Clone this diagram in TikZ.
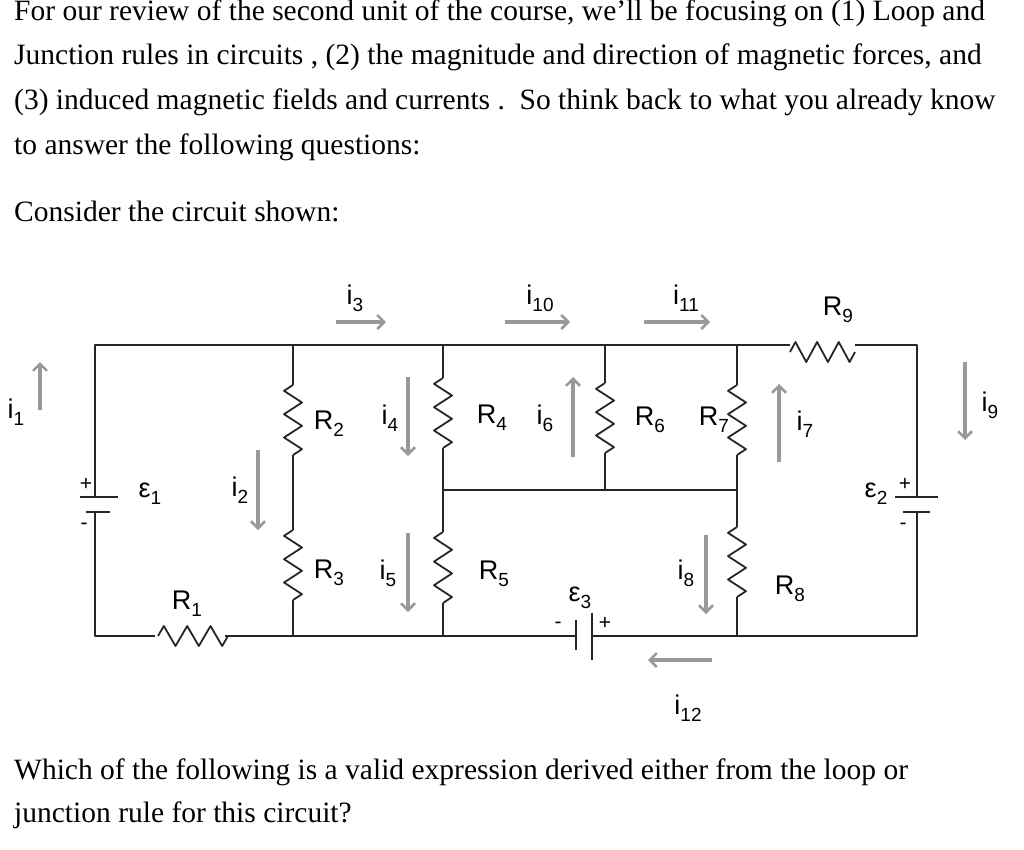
\documentclass[tikz,border=0pt]{standalone}
\usepackage{fontspec}
\setmainfont{Liberation Serif}
\newfontfamily\lsans{Liberation Sans}
\newcommand\sbs[1]{\raisebox{-0.25em}{\fontsize{19}{19}\selectfont #1}}
\begin{document}
\begin{tikzpicture}[x=1pt,y=-1pt,
  wire/.style={line width=1.8pt,black!85,line join=round},
  cur/.style={line width=4pt,black!40,-{Straight Barb[length=7pt,width=14pt,line width=2.5pt]}},
  lab/.style={font=\lsans\fontsize{27}{27}\selectfont,inner sep=0pt},
  pm/.style={font=\lsans\fontsize{21}{21}\selectfont,inner sep=0pt},
  txt/.style={font=\fontsize{29.5}{29.5}\selectfont,anchor=base west,inner sep=0pt}]
\usetikzlibrary{arrows.meta}
\useasboundingbox (0,0) rectangle (1024,849);
\newcommand\zzV[3]{\pgfmathsetmacro\hh{(#3-#2)/12}
  \draw[wire] (#1,#2) -- ++(-9,\hh) -- ++(18,2*\hh) -- ++(-18,2*\hh) -- ++(18,2*\hh) -- ++(-18,2*\hh) -- ++(18,2*\hh) -- ++(-9,\hh);}
\newcommand\zzH[3]{\pgfmathsetmacro\hh{(#3-#2)/12}
  \draw[wire] (#2,#1) -- ++(\hh,-10) -- ++(2*\hh,20) -- ++(2*\hh,-20) -- ++(2*\hh,20) -- ++(2*\hh,-20) -- ++(2*\hh,20) -- ++(\hh,-10);}
% text
\node[txt] at (14,20) {For our review of the second unit of the course, we'll be focusing on (1) Loop and};
\node[txt] at (14,64) {Junction rules in circuits , (2) the magnitude and direction of magnetic forces, and};
\node[txt] at (14,109) {(3) induced magnetic fields and currents .\ \ So think back to what you already know};
\node[txt] at (14,154) {to answer the following questions:};
\node[txt] at (14,221) {Consider the circuit shown:};
\node[txt] at (14,779) {Which of the following is a valid expression derived either from the loop or};
\node[txt] at (14,822) {junction rule for this circuit?};
\coordinate (TL) at (95,345); \coordinate (BL) at (95,636);
\coordinate (TR) at (917,345); \coordinate (BR) at (917,636);
% outer wires
\draw[wire] (95,497) -- (TL) -- (790,345);
\draw[wire] (855,345) -- (TR) -- (917,497);
\draw[wire] (95,512) -- (BL) -- (155,636);
\draw[wire] (225,636) -- (576,636);
\draw[wire] (592,636) -- (BR) -- (917,512);
\zzH{352}{790}{855}
\zzH{636}{158}{228}
% eps1
\draw[wire] (80,497) -- (118,497); \draw[wire,line width=2.4pt] (86,512) -- (110,512);
\node[pm] at (86,484) {+};
\node[pm] at (84,526) {-};
% eps2
\draw[wire] (895,497) -- (938,497); \draw[wire,line width=2.4pt] (903,512) -- (930,512);
\node[pm] at (905,484) {+};
\node[pm] at (903,526) {-};
% eps3
\draw[wire] (592,613) -- (592,660); \draw[wire,line width=2.4pt] (576,620) -- (576,650);
\node[pm] at (605,623) {+};
\node[pm] at (558,625) {-};
% column 293
\draw[wire] (293,345) -- (293,385); \zzV{293}{385}{455}
\draw[wire] (293,455) -- (293,530); \zzV{293}{530}{600}
\draw[wire] (293,600) -- (293,636);
% column 443
\draw[wire] (443,345) -- (443,378); \zzV{443}{378}{448}
\draw[wire] (443,448) -- (443,532); \zzV{443}{532}{603}
\draw[wire] (443,603) -- (443,636);
\draw[wire] (443,490) -- (737,490);
% column 605
\draw[wire] (605,345) -- (605,383); \zzV{605}{383}{453}
\draw[wire] (605,453) -- (605,490);
% column 737
\draw[wire] (737,345) -- (737,385); \zzV{737}{385}{455}
\draw[wire] (737,455) -- (737,527); \zzV{737}{527}{597}
\draw[wire] (737,597) -- (737,636);
% labels
\node[lab] at (150,494) {ε\sbs{1}};
\node[lab] at (876,494) {ε\sbs{2}};
\node[lab] at (580,598) {ε\sbs{3}};
\node[lab] at (187,604) {R\sbs{1}};
\node[lab] at (329,424) {R\sbs{2}};
\node[lab] at (329,573) {R\sbs{3}};
\node[lab] at (492,418) {R\sbs{4}};
\node[lab] at (494,574) {R\sbs{5}};
\node[lab] at (650,420) {R\sbs{6}};
\node[lab] at (714,420) {R\sbs{7}};
\node[lab] at (790,589) {R\sbs{8}};
\node[lab] at (838,310) {R\sbs{9}};
% currents
\draw[cur] (40,410) -- (40,362); \node[lab] at (16,412) {i\sbs{1}};
\draw[cur] (258,450) -- (258,530); \node[lab] at (240,490) {i\sbs{2}};
\draw[cur] (336,322) -- (386,322); \node[lab] at (355,298) {i\sbs{3}};
\draw[cur] (408,377) -- (408,456); \node[lab] at (390,418) {i\sbs{4}};
\draw[cur] (408,533) -- (408,612); \node[lab] at (388,573) {i\sbs{5}};
\draw[cur] (573,457) -- (573,377); \node[lab] at (545,418) {i\sbs{6}};
\draw[cur] (779,462) -- (779,384); \node[lab] at (805,424) {i\sbs{7}};
\draw[cur] (706,535) -- (706,614); \node[lab] at (686,573) {i\sbs{8}};
\draw[cur] (965,362) -- (965,440); \node[lab] at (990,405) {i\sbs{9}};
\draw[cur] (505,322) -- (570,322); \node[lab] at (540,298) {i\sbs{10}};
\draw[cur] (644,322) -- (710,322); \node[lab] at (686,298) {i\sbs{11}};
\draw[cur] (712,660) -- (648,660); \node[lab] at (688,708) {i\sbs{12}};
\end{tikzpicture}
\end{document}
